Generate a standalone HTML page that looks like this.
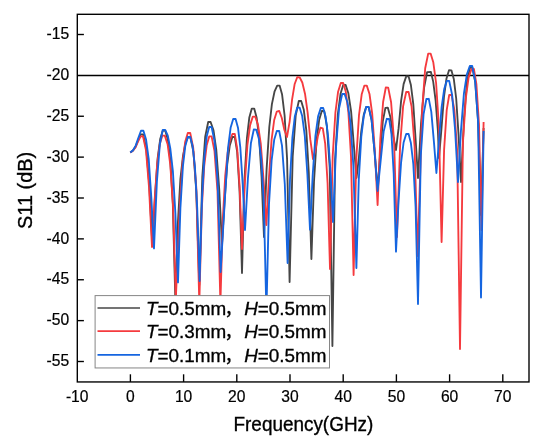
<!DOCTYPE html>
<html><head><meta charset="utf-8"><title>S11</title>
<style>
html,body{margin:0;padding:0;background:#fff;}
body{width:550px;height:445px;overflow:hidden;}
svg{display:block;}
text{font-family:"Liberation Sans","Noto Sans CJK SC",sans-serif;fill:#000;stroke:#000;stroke-width:0.2px;}
</style></head><body>
<svg width="550" height="445" viewBox="0 0 550 445">
<rect x="0" y="0" width="550" height="445" fill="#fff"/>
<g fill="none" stroke-linejoin="round" stroke-linecap="butt" stroke-width="1.85">
<line x1="77.3" y1="75.55" x2="529" y2="75.55" stroke="#000" stroke-width="1.4"/>
<polyline stroke="#464646" points="130.3,152.5 133.0,150.6 135.5,146.8 138.0,140.5 140.7,134.4 143.1,134.4 146.2,148.2 149.3,184.9 152.4,246.0 155.0,196.5 157.6,158.7 160.2,139.1 162.8,130.6 165.2,130.6 167.8,139.5 170.3,160.2 172.8,203.3 175.4,302.0 177.9,222.5 180.4,179.1 183.0,155.9 185.5,143.0 188.0,137.2 190.4,137.2 193.4,151.7 196.3,191.3 199.3,285.0 202.3,176.8 205.2,136.6 208.2,122.0 210.6,122.0 213.5,130.3 216.3,150.0 219.2,188.8 222.0,244.0 224.6,200.9 227.2,164.6 229.8,145.4 232.4,137.0 234.8,137.0 237.2,152.2 239.6,191.4 242.0,273.0 244.4,181.1 246.9,138.3 249.3,117.6 251.8,108.6 254.2,108.6 256.6,117.4 259.1,137.5 261.6,177.2 264.0,237.0 266.6,169.1 269.3,127.0 271.9,104.1 274.6,91.3 277.2,85.6 279.6,85.6 282.1,94.6 284.6,115.5 287.1,159.4 289.6,282.0 292.7,156.2 295.7,115.6 298.8,101.0 301.2,101.0 303.8,109.8 306.3,130.4 308.8,172.8 311.4,259.0 314.0,181.8 316.6,140.2 319.2,119.7 321.8,111.0 324.2,111.0 326.9,126.1 329.7,167.5 332.4,346.0 335.1,159.2 337.8,114.7 340.5,93.8 343.2,85.0 345.6,84.9 348.3,93.0 351.1,111.4 353.8,144.5 356.5,178.0 358.9,157.6 361.3,131.2 363.8,114.6 366.2,106.9 368.6,106.9 371.6,120.0 374.6,151.8 377.6,190.0 380.2,153.0 382.8,121.3 385.4,107.8 387.8,107.6 390.5,117.4 393.3,136.4 396.0,150.0 398.6,128.2 401.1,100.9 403.6,84.1 406.2,76.4 408.6,76.4 410.9,85.0 413.3,104.2 415.6,139.2 418.0,178.0 421.0,124.1 424.1,87.7 427.1,72.1 430.9,72.0 433.2,81.6 435.6,100.3 437.9,131.0 439.0,158.0 441.5,128.1 444.0,96.5 446.5,78.4 449.0,70.2 451.4,70.3 453.8,78.9 456.2,98.5 458.6,135.6 461.0,182.0 464.0,118.6 467.0,81.6 470.0,67.6 472.4,67.6 475.3,82.2 478.1,121.8 481.0,215.0 483.6,128.0"/>
<polyline stroke="#f53a3e" points="130.3,152.5 132.9,150.8 135.5,147.4 138.0,141.7 140.6,136.3 143.0,136.2 146.0,150.2 149.0,186.8 152.0,247.0 154.6,200.6 157.2,163.5 159.8,144.0 162.4,135.6 164.8,135.6 167.6,144.2 170.3,164.8 173.1,207.4 175.8,299.0 179.9,205.2 182.6,162.4 185.2,141.8 187.8,133.0 190.2,133.0 193.2,147.6 196.3,187.9 199.3,303.0 201.8,209.0 204.2,166.1 206.7,145.3 209.2,136.4 211.6,136.4 214.5,151.1 217.5,191.4 220.4,303.0 222.8,219.9 225.2,176.2 227.6,152.9 230.0,139.9 232.4,134.0 234.8,133.9 237.2,148.8 239.6,186.2 242.0,249.0 244.7,185.4 247.4,145.2 250.1,125.1 252.8,116.6 255.2,116.6 258.0,124.8 260.8,144.0 263.6,180.5 266.4,225.0 269.0,177.0 271.6,139.6 274.2,120.0 276.8,111.6 279.2,110.9 281.8,118.0 284.4,130.0 287.0,137.0 289.6,121.8 292.1,99.4 294.6,84.3 297.2,77.2 299.6,77.3 302.3,82.5 305.0,93.7 307.6,112.4 310.3,139.4 313.0,159.0 315.5,150.2 317.9,136.0 320.4,127.7 322.8,128.4 325.2,143.7 327.6,183.2 330.0,269.0 332.7,156.1 335.4,112.5 338.1,91.7 340.8,83.0 343.2,83.0 345.8,91.8 348.4,112.7 351.0,156.5 353.6,275.0 356.3,158.8 359.0,115.1 361.7,94.3 364.4,85.6 366.8,85.6 369.5,94.0 372.2,113.7 374.9,152.1 377.6,205.0 380.3,139.4 383.1,102.0 385.8,87.5 388.2,87.6 391.1,102.2 394.1,141.8 397.0,237.0 400.1,145.7 403.1,106.4 406.2,92.0 408.6,92.0 411.6,106.6 414.6,146.8 417.6,256.0 422.2,109.2 425.2,68.3 428.2,53.6 430.6,53.6 433.3,62.3 436.1,83.0 438.9,126.7 441.6,242.0 444.1,149.9 446.7,110.1 449.2,95.0 451.6,95.0 454.4,110.0 457.2,151.4 460.0,349.0 462.9,143.0 465.8,98.5 468.6,77.6 471.5,69.0 473.9,69.0 476.4,84.2 479.0,124.6 481.5,230.0 483.6,122.0"/>
<polyline stroke="#1565e0" points="130.3,152.5 133.0,150.2 135.7,145.6 138.3,138.0 141.0,130.7 143.4,130.7 146.0,139.2 148.7,158.8 151.3,197.0 154.0,248.4 156.9,181.4 159.9,144.0 162.8,129.8 165.2,129.8 167.8,135.6 170.3,148.4 172.9,171.3 175.4,213.6 178.0,282.4 180.4,207.9 182.9,166.4 185.3,145.9 187.8,137.0 190.2,137.0 192.6,146.0 194.9,166.5 197.2,207.9 199.6,281.0 202.0,198.8 204.4,156.6 206.8,136.0 209.2,127.0 211.6,127.0 214.6,141.5 217.6,180.9 220.6,272.0 225.4,190.3 228.0,148.3 230.6,127.8 233.2,119.0 235.6,119.0 238.0,127.7 240.3,147.3 242.7,184.3 245.0,230.0 247.9,178.5 250.9,143.3 253.8,129.5 256.2,129.6 258.8,138.5 261.3,159.3 263.8,202.8 266.4,312.0 269.0,204.1 271.6,160.6 274.2,139.8 276.8,131.0 279.2,131.0 282.0,145.6 284.8,184.3 287.6,263.0 290.0,179.5 292.4,137.3 294.8,116.6 297.2,107.6 299.6,107.6 302.2,116.1 304.8,136.0 307.4,174.8 310.0,229.6 312.7,175.0 315.4,136.2 318.1,116.4 320.8,108.0 323.2,108.0 325.6,116.6 328.1,136.3 330.6,173.8 333.0,222.0 336.1,146.4 339.1,108.2 342.2,94.0 344.6,94.0 347.5,102.5 350.5,123.0 353.4,166.1 356.4,268.0 358.8,179.2 361.3,136.7 363.8,115.9 366.2,107.0 368.6,106.9 371.6,120.0 374.6,152.1 377.6,191.0 380.7,160.4 383.7,131.2 386.8,118.8 389.2,119.0 391.5,134.4 393.7,173.5 396.0,251.6 398.6,200.4 401.1,162.3 403.6,142.5 406.2,134.0 408.6,134.0 410.9,143.1 413.3,164.0 415.6,207.0 418.0,304.0 420.8,155.1 423.6,114.0 426.4,99.0 428.8,98.8 431.3,111.9 433.9,141.7 436.4,173.0 439.0,140.3 441.6,107.5 444.2,89.1 446.8,80.9 449.2,80.9 452.1,94.7 455.1,130.0 458.0,182.0 460.9,131.5 463.9,93.7 466.9,74.2 469.8,66.0 472.2,66.0 475.1,80.8 478.1,122.0 481.0,297.6 483.6,131.0"/>
</g>
<!-- legend -->
<rect x="95.1" y="295.6" width="234.4" height="72.35" fill="#fff" stroke="#868686" stroke-width="1"/>
<g stroke-width="1.7">
<line x1="97.5" y1="308.0" x2="140" y2="308.0" stroke="#464646"/>
<line x1="97.5" y1="331.1" x2="140" y2="331.1" stroke="#f53a3e"/>
<line x1="97.5" y1="354.8" x2="140" y2="354.8" stroke="#1565e0"/>
</g>
<text transform="translate(146.0,314.5) scale(1.055,1.04)" font-size="17.9" style="stroke-width:0.32px" text-anchor="start"><tspan font-style="italic">T</tspan>=0.5mm</text>
<text transform="translate(224.6,314.5) scale(1.000,1.04)" font-size="17.9" style="stroke-width:0.32px" text-anchor="start">，</text>
<text transform="translate(244.2,314.5) scale(1.055,1.04)" font-size="17.9" style="stroke-width:0.32px" text-anchor="start"><tspan font-style="italic">H</tspan>=0.5mm</text>
<text transform="translate(146.0,338.1) scale(1.055,1.04)" font-size="17.9" style="stroke-width:0.32px" text-anchor="start"><tspan font-style="italic">T</tspan>=0.3mm</text>
<text transform="translate(224.6,338.1) scale(1.000,1.04)" font-size="17.9" style="stroke-width:0.32px" text-anchor="start">，</text>
<text transform="translate(244.2,338.1) scale(1.055,1.04)" font-size="17.9" style="stroke-width:0.32px" text-anchor="start"><tspan font-style="italic">H</tspan>=0.5mm</text>
<text transform="translate(146.0,361.8) scale(1.055,1.04)" font-size="17.9" style="stroke-width:0.32px" text-anchor="start"><tspan font-style="italic">T</tspan>=0.1mm</text>
<text transform="translate(224.6,361.8) scale(1.000,1.04)" font-size="17.9" style="stroke-width:0.32px" text-anchor="start">，</text>
<text transform="translate(244.2,361.8) scale(1.055,1.04)" font-size="17.9" style="stroke-width:0.32px" text-anchor="start"><tspan font-style="italic">H</tspan>=0.5mm</text>
<!-- frame -->
<rect x="77.30" y="14.30" width="451.70" height="367.65" fill="none" stroke="#000" stroke-width="1.38"/>
<g stroke="#000" stroke-width="1.38">
<line x1="77.3" y1="34.50" x2="83.9" y2="34.50"/>
<line x1="77.3" y1="116.25" x2="83.9" y2="116.25"/>
<line x1="77.3" y1="157.12" x2="83.9" y2="157.12"/>
<line x1="77.3" y1="198.00" x2="83.9" y2="198.00"/>
<line x1="77.3" y1="238.88" x2="83.9" y2="238.88"/>
<line x1="77.3" y1="279.75" x2="83.9" y2="279.75"/>
<line x1="77.3" y1="320.62" x2="83.9" y2="320.62"/>
<line x1="77.3" y1="361.50" x2="83.9" y2="361.50"/>
<line x1="130.40" y1="381.9" x2="130.40" y2="374.3"/>
<line x1="183.60" y1="381.9" x2="183.60" y2="374.3"/>
<line x1="236.80" y1="381.9" x2="236.80" y2="374.3"/>
<line x1="290.00" y1="381.9" x2="290.00" y2="374.3"/>
<line x1="343.20" y1="381.9" x2="343.20" y2="374.3"/>
<line x1="396.40" y1="381.9" x2="396.40" y2="374.3"/>
<line x1="449.60" y1="381.9" x2="449.60" y2="374.3"/>
<line x1="502.80" y1="381.9" x2="502.80" y2="374.3"/>
</g>
<text transform="translate(69.1,39.4) scale(1.03,1.08)" font-size="15.2" text-anchor="end">-15</text>
<text transform="translate(69.1,80.2) scale(1.03,1.08)" font-size="15.2" text-anchor="end">-20</text>
<text transform="translate(69.1,121.1) scale(1.03,1.08)" font-size="15.2" text-anchor="end">-25</text>
<text transform="translate(69.1,161.9) scale(1.03,1.08)" font-size="15.2" text-anchor="end">-30</text>
<text transform="translate(69.1,202.8) scale(1.03,1.08)" font-size="15.2" text-anchor="end">-35</text>
<text transform="translate(69.1,243.6) scale(1.03,1.08)" font-size="15.2" text-anchor="end">-40</text>
<text transform="translate(69.1,284.4) scale(1.03,1.08)" font-size="15.2" text-anchor="end">-45</text>
<text transform="translate(69.1,325.3) scale(1.03,1.08)" font-size="15.2" text-anchor="end">-50</text>
<text transform="translate(69.1,366.1) scale(1.03,1.08)" font-size="15.2" text-anchor="end">-55</text>
<text transform="translate(77.2,402.0) scale(1.03,1.08)" font-size="15.2" text-anchor="middle">-10</text>
<text transform="translate(130.4,402.0) scale(1.03,1.08)" font-size="15.2" text-anchor="middle">0</text>
<text transform="translate(183.6,402.0) scale(1.03,1.08)" font-size="15.2" text-anchor="middle">10</text>
<text transform="translate(236.8,402.0) scale(1.03,1.08)" font-size="15.2" text-anchor="middle">20</text>
<text transform="translate(290.0,402.0) scale(1.03,1.08)" font-size="15.2" text-anchor="middle">30</text>
<text transform="translate(343.2,402.0) scale(1.03,1.08)" font-size="15.2" text-anchor="middle">40</text>
<text transform="translate(396.4,402.0) scale(1.03,1.08)" font-size="15.2" text-anchor="middle">50</text>
<text transform="translate(449.6,402.0) scale(1.03,1.08)" font-size="15.2" text-anchor="middle">60</text>
<text transform="translate(502.8,402.0) scale(1.03,1.08)" font-size="15.2" text-anchor="middle">70</text>
<text transform="translate(303.4,430.5) scale(1.04,1.09)" font-size="18.2" style="stroke-width:0.32px" text-anchor="middle">Frequency(GHz)</text>
<text transform="translate(31.9,190.4) rotate(-90) scale(1.06,1.07)" font-size="18.8" style="stroke-width:0.32px" text-anchor="middle">S11 (dB)</text>
</svg>
</body></html>
